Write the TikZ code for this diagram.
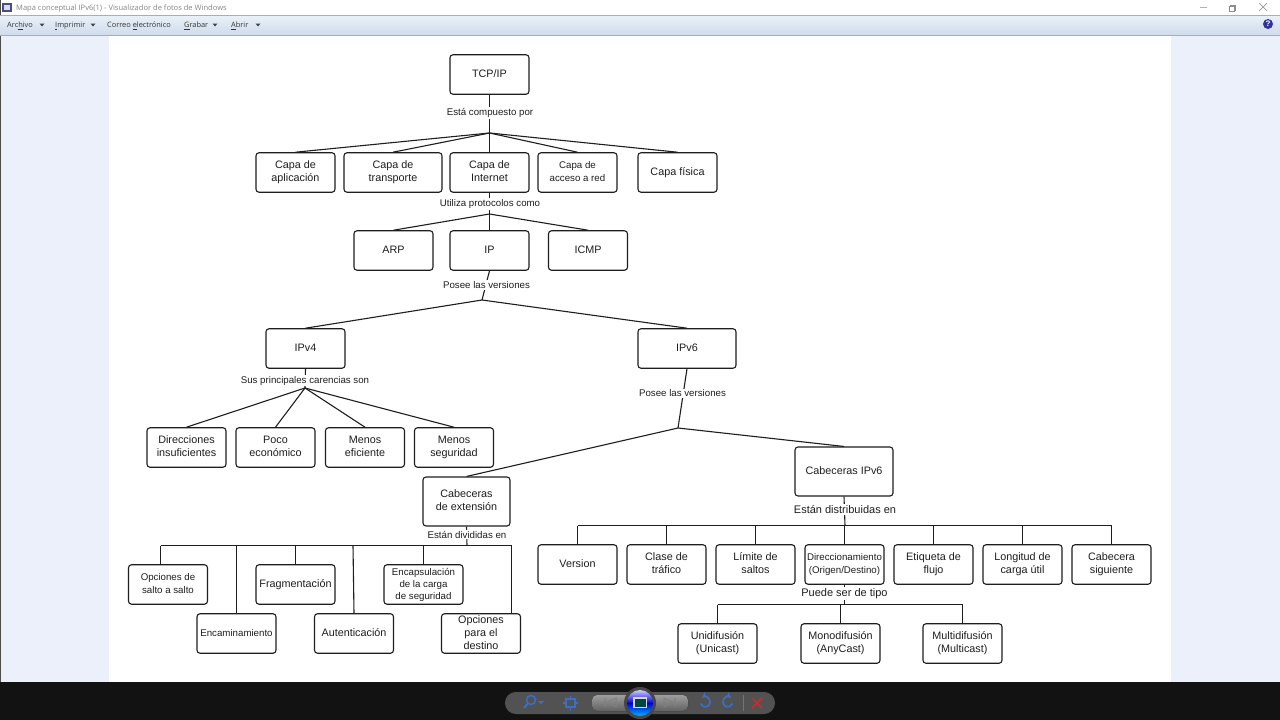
\documentclass[tikz,border=0pt]{standalone}
\usepackage{fontspec}
\usepackage{xcolor}
\setmainfont{Liberation Sans}
\newfontfamily\uifont{Open Sans}
\definecolor{ink}{HTML}{1E1E1E}
\definecolor{sidepane}{HTML}{EBF0FA}
\definecolor{barblue}{HTML}{3A6FC8}
\definecolor{bartop}{HTML}{E9F0F8}
\definecolor{barbot}{HTML}{CFDCEC}
\definecolor{barline}{HTML}{A4AEBF}
\tikzset{
	cbox/.style={draw=ink, line width=1.1, rounded corners=3, inner sep=0, align=center, text=ink, minimum height=39.5, minimum width=79, font=\fontsize{10.8}{13}\selectfont, execute at begin node=\vphantom{Ap}, execute at end node=\vphantom{Ap}},
	smallbox/.style={cbox, font=\fontsize{9.7}{12.5}\selectfont},
	link/.style={fill=white, inner sep=1, text=ink, font=\fontsize{9.7}{12}\selectfont},
	biglink/.style={link, font=\fontsize{11}{13}\selectfont},
	wire/.style={draw=ink, line width=1.1},
	menutext/.style={anchor=west, inner sep=0, text=black!80, font=\uifont\fontsize{7.4}{9}\selectfont},
	menuarrow/.style={fill=black!75, draw=none},
	playicon/.style={draw=barblue, line width=1.3},
}
\begin{document}
\begin{tikzpicture}[x=1pt, y=-1pt]
	\useasboundingbox (0,0) rectangle (1280,720);

	\fill[white] (0,0) rectangle (1280,720);
	\fill[sidepane] (0,35) rectangle (109,682);
	\fill[sidepane] (1171,35) rectangle (1280,682);
	\fill[black!70] (0,0) rectangle (1.2,682);
	\shade[top color=bartop, bottom color=barbot] (0,16) rectangle (1280,35);
	\draw[barline, line width=0.8] (0,15.5) -- (1280,15.5);
	\draw[barline, line width=0.8] (0,35) -- (1280,35);
	\fill[black!93] (0,682) rectangle (1280,720);

	\fill[blue!30!black!70] (2,3) rectangle (12,12);
	\fill[blue!15!white] (4,5) rectangle (10,10);
	\node[anchor=west, inner sep=0, text=black!48, font=\uifont\fontsize{7.55}{9}\selectfont] (wintitle) at (16,8.5) {Mapa conceptual IPv6(1) - Visualizador de fotos de Windows};
	\node[menutext] (marchivo) at (7,26) {Arc\underline{h}ivo};
	\node[menutext] (mimprimir) at (55,26) {\underline{I}mprimir};
	\node[menutext] (mcorreo) at (107,26) {Correo \underline{e}lectrónico};
	\node[menutext] (mgrabar) at (184,26) {\underline{G}rabar};
	\node[menutext] (mabrir) at (231,26) {\underline{A}brir};
	\foreach \xa in {42,93,215,258}
		\fill[menuarrow] (\xa-2.5,23.5) -- (\xa+2.5,23.5) -- (\xa,26.5) -- cycle;

	\draw[black!30, line width=0.7] (1200,7) -- (1207,7);
	\draw[black!45, line width=0.7] (1230,5) rectangle (1235,10);
	\draw[black!45, line width=0.7, fill=white] (1229,6) rectangle (1234,11);
	\draw[black!40, line width=0.7] (1259,3) -- (1267,11) (1267,3) -- (1259,11);
	\node[circle, fill=blue!50!black!80, minimum size=10, inner sep=0, text=white, font=\fontsize{8}{8}\bfseries\selectfont] (helpmark) at (1268,24) {?};

	\fill[black!68, rounded corners=10.9] (505,692) rectangle (775,714);
	\fill[rounded corners=5, top color=black!38, bottom color=black!62] (592,695) rectangle (688,711);
	\draw[black!50, line width=1] (605,698) -- (605,707) (616,698) -- (607,702.5) -- (616,707) -- cycle;
	\draw[black!50, line width=1] (675,698) -- (675,707) (664,698) -- (673,702.5) -- (664,707) -- cycle;
	\fill[black!72] (640,703) circle (16);
	\shade[top color=blue!20!white, bottom color=cyan!70!blue, middle color=blue!85!black] (640,703) circle (13);
	\fill[white!85!black] (633,697) rectangle (647,708);
	\fill[teal!55!black] (634.5,698.5) rectangle (645.5,706.5);
	\draw[playicon, line width=1.5] (531,700) circle (4.5);
	\draw[playicon, line width=2] (527.5,704) -- (524,708);
	\fill[barblue] (538,701) -- (544,701) -- (541,704) -- cycle;
	\draw[playicon] (566,699) rectangle (575,707);
	\draw[playicon] (570.5,695.5) -- (570.5,698) (570.5,708) -- (570.5,710.5) (563,703) -- (565,703) (576,703) -- (578,703);
	\draw[playicon, line width=1.6, <-, >=stealth] (702,698) arc[start angle=-130, end angle=160, radius=5];
	\draw[playicon, line width=1.6, <-, >=stealth] (731,698) arc[start angle=-50, end angle=-340, radius=5];
	\draw[black!55, line width=0.6] (743,695) -- (743,711);
	\draw[red!65!black!80!white, line width=2] (752,698) -- (762,708) (762,698) -- (752,708);

	\node[cbox] (tcp) at (489.5,74.5) {TCP/IP};
	\node[cbox] (capaapp) at (295.5,172.5) {Capa de\\aplicación};
	\node[cbox, minimum width=98] (capatrans) at (393,172.5) {Capa de\\transporte};
	\node[cbox] (capainter) at (489.5,172.5) {Capa de\\Internet};
	\node[smallbox] (capared) at (577.5,172.5) {Capa de\\acceso a red};
	\node[cbox] (capafis) at (677.5,172.5) {Capa física};

	\node[cbox] (arp) at (393.5,250.5) {ARP};
	\node[cbox] (ip) at (489.5,250.5) {IP};
	\node[cbox] (icmp) at (588,250.5) {ICMP};

	\node[cbox] (ipcuatro) at (305.5,348.5) {IPv4};
	\node[cbox, minimum width=98] (ipseis) at (687,348.5) {IPv6};

	\node[cbox] (dirins) at (186.5,447.5) {Direcciones\\insuficientes};
	\node[cbox] (poco) at (275.5,447.5) {Poco\\económico};
	\node[cbox] (menosef) at (365,447.5) {Menos\\eficiente};
	\node[cbox] (menosseg) at (454,447.5) {Menos\\seguridad};

	\node[cbox, minimum width=87, minimum height=49] (cabext) at (466.5,501.5) {Cabeceras\\de extensión};
	\node[cbox, minimum width=98, minimum height=49] (cabseis) at (844,471.5) {Cabeceras IPv6};

	\node[smallbox] (opsalto) at (168,584.5) {Opciones de\\salto a salto};
	\node[smallbox] (encam) at (236.5,633.5) {Encaminamiento};
	\node[cbox] (frag) at (295.5,584.5) {Fragmentación};
	\node[cbox] (auten) at (354,633.5) {Autenticación};
	\node[smallbox, font=\fontsize{9.7}{12}\selectfont] (encaps) at (423.5,584.5) {Encapsulación\\de la carga\\de seguridad};
	\node[cbox] (opdest) at (481,633.5) {Opciones\\para el\\destino};

	\node[cbox] (version) at (577.5,564.5) {Version};
	\node[cbox] (clase) at (666.5,564.5) {Clase de\\tráfico};
	\node[cbox] (limite) at (755.5,564.5) {Límite de\\saltos};
	\node[smallbox] (direc) at (844.5,564.5) {Direccionamiento\\(Origen/Destino)};
	\node[cbox] (etiq) at (933.5,564.5) {Etiqueta de\\flujo};
	\node[cbox] (longi) at (1022.5,564.5) {Longitud de\\carga útil};
	\node[cbox] (sigue) at (1111.5,564.5) {Cabecera\\siguiente};

	\node[cbox] (unid) at (717.5,643.5) {Unidifusión\\(Unicast)};
	\node[cbox] (monod) at (840.5,643.5) {Monodifusión\\(AnyCast)};
	\node[cbox] (multid) at (962.5,643.5) {Multidifusión\\(Multicast)};

	\coordinate (tipcapas) at (489.5,133);
	\coordinate (tipproto) at (489.5,214);
	\coordinate (tipver) at (482,300);
	\coordinate (tipcar) at (305,388);
	\coordinate (tipseis) at (678,428);
	\coordinate (extbusl) at (160.5,545.5);
	\coordinate (extbusr) at (511.5,545.5);
	\coordinate (extmid) at (467,545.5);
	\coordinate (seisbusl) at (577.5,525.5);
	\coordinate (seisbusr) at (1111.5,525.5);
	\coordinate (seismid) at (845,525.5);
	\coordinate (tipobusl) at (717.5,604.5);
	\coordinate (tipobusr) at (962.5,604.5);
	\coordinate (tipomid) at (844.5,604.5);

	\draw[wire] (tcp.south) -- (tipcapas);
	\foreach \nm in {capaapp,capatrans,capainter,capared,capafis}
		\draw[wire] (tipcapas) -- (\nm.north);
	\draw[wire] (capainter.south) -- (tipproto);
	\foreach \nm in {arp,ip,icmp}
		\draw[wire] (tipproto) -- (\nm.north);
	\draw[wire] (ip.south) -- (tipver);
	\draw[wire] (tipver) -- (ipcuatro.north);
	\draw[wire] (tipver) -- (ipseis.north);
	\draw[wire] (ipcuatro.south) -- (tipcar);
	\foreach \nm in {dirins,poco,menosef,menosseg}
		\draw[wire] (tipcar) -- (\nm.north);
	\draw[wire] (ipseis.south) -- (tipseis);
	\draw[wire] (tipseis) -- (cabext.north);
	\draw[wire] (tipseis) -- (cabseis.north);

	\draw[wire] (cabext.south) -- (extmid);
	\draw[wire] (extbusl) -- (extbusr);
	\draw[wire] (extbusl) -- ([xshift=-7.5]opsalto.north);
	\draw[wire] (encam.north |- extbusl) -- (encam.north);
	\draw[wire] (frag.north |- extbusl) -- (frag.north);
	\draw[wire] (353,545.5) -- (auten.north);
	\draw[wire] (encaps.north |- extbusl) -- (encaps.north);
	\draw[wire] (extbusr) -- ([xshift=30.5]opdest.north);

	\draw[wire] (cabseis.south) -- (seismid);
	\draw[wire] (seisbusl) -- (seisbusr);
	\foreach \nm in {version,clase,limite,direc,etiq,longi,sigue}
		\draw[wire] (\nm.north |- seisbusl) -- (\nm.north);

	\draw[wire] (direc.south) -- (tipomid);
	\draw[wire] (tipobusl) -- (tipobusr);
	\foreach \nm in {unid,monod,multid}
		\draw[wire] (\nm.north |- tipobusl) -- (\nm.north);

	\node[link] (lblcomp) at (490,113) {Está compuesto por};
	\node[link] (lblproto) at (490,204) {Utiliza protocolos como};
	\node[link] (lblver) at (486.5,285) {Posee las versiones};
	\node[link] (lblcar) at (305,380.5) {Sus principales carencias son};
	\node[link] (lblverdos) at (682.5,393.5) {Posee las versiones};
	\node[link] (lbldiv) at (467,534.5) {Están divididas en};
	\node[biglink] (lbldist) at (845,509.5) {Están distribuidas en};
	\node[biglink] (lbltipo) at (844.5,593.5) {Puede ser de tipo};
\end{tikzpicture}
\end{document}
